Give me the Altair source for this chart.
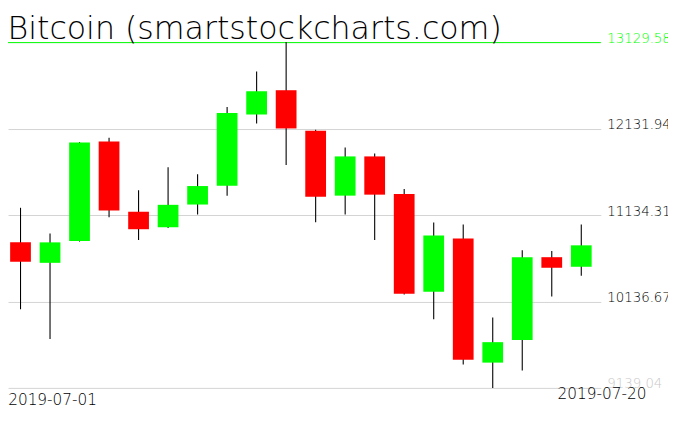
import altair as alt
import pandas as pd

# daily candles, Bitcoin, July 2019
dates = [
    "2019-07-01", "2019-07-02", "2019-07-03", "2019-07-04", "2019-07-05",
    "2019-07-06", "2019-07-07", "2019-07-08", "2019-07-09", "2019-07-10",
    "2019-07-11", "2019-07-12", "2019-07-13", "2019-07-14", "2019-07-15",
    "2019-07-16", "2019-07-17", "2019-07-18", "2019-07-19", "2019-07-20",
]
opens = [10818.5, 10582.5, 10833.3, 11981.5, 11172.0, 10993.0, 11255.2, 11471.8, 12292.7, 12574.3,
         12106.9, 11357.8, 11810.4, 11377.2, 10248.4, 10864.1, 9430.9, 9693.2, 10647.5, 10536.9]
highs = [11217.6, 10921.1, 11975.0, 12027.0, 11419.4, 11685.0, 11605.2, 12380.5, 12790.9, 13129.58,
         12118.0, 11913.0, 11844.6, 11434.2, 11046.6, 11023.7, 9952.0, 10727.3, 10719.3, 11023.7]
lows = [10046.6, 9704.6, 10828.0, 11107.0, 10844.7, 10985.0, 11141.2, 11357.8, 12190.1, 11711.3,
        11050.0, 11141.2, 10844.7, 10217.7, 9932.6, 9408.1, 9139.04, 9339.7, 10194.9, 10434.2]
closes = [10593.9, 10818.5, 11970.1, 11186.8, 10970.2, 11251.8, 11468.4, 12312.1, 12562.9, 12133.1,
          11346.4, 11810.4, 11369.2, 10225.7, 10898.3, 9465.2, 9667.0, 10647.5, 10525.5, 10784.3]

tick_values = [9139.04, 10136.67, 11134.31, 12131.94, 13129.58]

TITLE = "Bitcoin (smartstockcharts.com)"
FONT = "DejaVu Sans"

df = pd.DataFrame({
    "i": list(range(len(dates))),
    "date": dates,
    "open": opens,
    "high": highs,
    "low": lows,
    "close": closes,
})
df["dir"] = ["up" if c > o else "down" for o, c in zip(opens, closes)]

# first and last date shown under the plot
labels = pd.DataFrame({
    "i": [0, len(dates) - 1],
    "date": [dates[0], dates[-1]],
    "floor": [min(lows), min(lows)],
})

# padding=0: no extra room that vega-lite keeps for bars at the edges
x_scale = alt.Scale(domain=[-0.424, 19.662], nice=False, zero=False, padding=0)
y_scale = alt.Scale(domain=[min(lows), max(highs)], nice=False, zero=False)

y_axis = alt.Axis(
    orient="right",
    values=tick_values,
    format=".2f",
    title=None,
    grid=True,
    gridColor="#d3d3d3",
    gridWidth=1,
    ticks=False,
    domain=False,
    labelPadding=6,
    labelAlign="left",
    labelBaseline="alphabetic",
    labelFont=FONT,
    labelFontSize=13.5,
    labelFontWeight=200,
    labelColor={
        "condition": [
            {"test": "datum.value > 13000", "value": "#00ff00"},
            {"test": "datum.value < 9500", "value": "#c8c8c8"},
        ],
        "value": "black",
    },
)


def x_enc():
    return alt.X("i:Q", scale=x_scale, axis=None)


def y_enc(field):
    return alt.Y(field, scale=y_scale, axis=y_axis)


top_line = alt.Chart(df).mark_rule(color="#00ff00", strokeWidth=1, yOffset=0.5).encode(
    y=y_enc("max(high):Q"),
)

wicks = alt.Chart(df).mark_rule(color="black", strokeWidth=1.1).encode(
    x=x_enc(),
    y=y_enc("low:Q"),
    y2="high:Q",
)

bodies = alt.Chart(df).mark_bar(size=21).encode(
    x=x_enc(),
    y=y_enc("open:Q"),
    y2="close:Q",
    color=alt.Color(
        "dir:N",
        scale=alt.Scale(domain=["up", "down"], range=["#00ff00", "#ff0000"]),
        legend=None,
    ),
)


def date_label(row, align, dx, dy):
    return alt.Chart(labels.iloc[[row]]).mark_text(
        align=align, baseline="alphabetic", dx=dx, dy=dy,
        font=FONT, fontSize=15.5, fontWeight=200, color="black",
    ).encode(
        x=x_enc(),
        y=y_enc("floor:Q"),
        text="date:N",
    )


chart = alt.layer(
    top_line, wicks, bodies,
    date_label(0, "left", -12.5, 17),
    date_label(1, "right", 66, 11),
).properties(
    width=600,
    height=350,
    autosize="none",
    padding={"left": 0, "top": 32, "right": 68, "bottom": 33},
    title=alt.TitleParams(
        TITLE, anchor="start", font=FONT, fontSize=32, fontWeight=200,
        color="black", baseline="alphabetic", offset=0, dy=40,
    ),
).configure_view(stroke=None)

chart.save("out.html", embed_options={"renderer": "svg", "actions": False})
